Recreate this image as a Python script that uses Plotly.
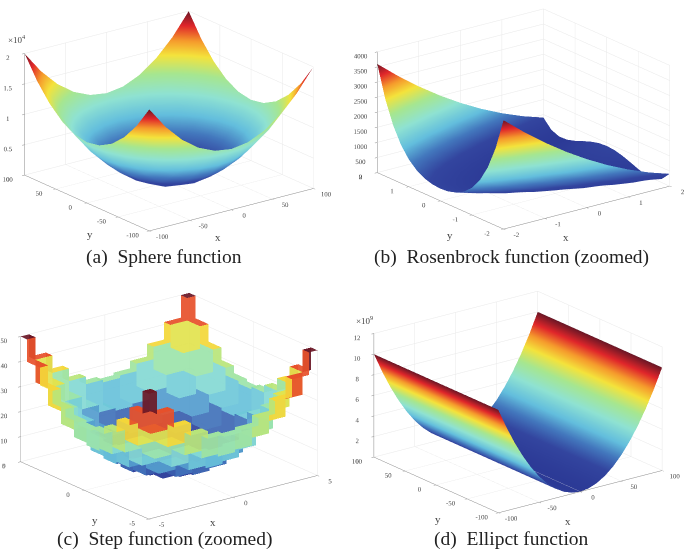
import numpy as np
import plotly.graph_objects as go

W, H = 685, 552
COLORS = [[0.0, "#2c3a96"], [0.12, "#33459f"], [0.22, "#4377bd"], [0.32, "#63bedd"],
          [0.45, "#8fe2d2"], [0.58, "#a6e690"], [0.70, "#f4e33c"], [0.80, "#f59a2c"],
          [0.90, "#e0262a"], [1.0, "#6b1726"]]

sphere_xy = [-100, -80, -60, -40, -20, 0, 20, 40, 60, 80, 100]
sphere_z = [
    [20000, 16400, 13600, 11600, 10400, 10000, 10400, 11600, 13600, 16400, 20000],
    [16400, 12800, 10000, 8000, 6800, 6400, 6800, 8000, 10000, 12800, 16400],
    [13600, 10000, 7200, 5200, 4000, 3600, 4000, 5200, 7200, 10000, 13600],
    [11600, 8000, 5200, 3200, 2000, 1600, 2000, 3200, 5200, 8000, 11600],
    [10400, 6800, 4000, 2000, 800, 400, 800, 2000, 4000, 6800, 10400],
    [10000, 6400, 3600, 1600, 400, 0, 400, 1600, 3600, 6400, 10000],
    [10400, 6800, 4000, 2000, 800, 400, 800, 2000, 4000, 6800, 10400],
    [11600, 8000, 5200, 3200, 2000, 1600, 2000, 3200, 5200, 8000, 11600],
    [13600, 10000, 7200, 5200, 4000, 3600, 4000, 5200, 7200, 10000, 13600],
    [16400, 12800, 10000, 8000, 6800, 6400, 6800, 8000, 10000, 12800, 16400],
    [20000, 16400, 13600, 11600, 10400, 10000, 10400, 11600, 13600, 16400, 20000],
]

rosen_x = [-2, -1.5, -1, -0.5, 0, 0.5, 1, 1.5, 2]
rosen_y = [-2, -1.75, -1.5, -1.25, -1, -0.75, -0.5, -0.25, 0, 0.25, 0.5, 0.75, 1, 1.25, 1.5, 1.75, 2]
rosen_z = [
    [3609, 3034, 2509, 2034, 1609, 1234, 909, 634, 409],
    [2571, 2090, 1658, 1277, 946, 665, 433, 252, 121],
    [1812, 1412, 1062, 762, 512, 312, 162, 62, 12],
    [1274, 943, 662, 430, 249, 118, 37, 5, 24],
    [904, 629, 404, 229, 104, 29, 4, 29, 104],
    [660, 428, 247, 116, 35, 3, 22, 91, 210],
    [508, 308, 158, 58, 8, 8, 58, 158, 308],
    [427, 246, 115, 34, 2, 21, 90, 209, 377],
    [401, 226, 101, 26, 1, 26, 101, 226, 401],
    [426, 245, 114, 33, 1, 20, 89, 208, 376],
    [506, 306, 156, 56, 6, 6, 56, 156, 306],
    [657, 425, 244, 113, 32, 0, 19, 88, 207],
    [900, 625, 400, 225, 100, 25, 0, 25, 100],
    [1269, 938, 657, 425, 244, 113, 32, 0, 19],
    [1806, 1406, 1056, 756, 506, 306, 156, 56, 6],
    [2564, 2083, 1651, 1270, 939, 658, 426, 245, 114],
    [3601, 3026, 2501, 2026, 1601, 1226, 901, 626, 401],
]

step_edges = [-5, -4.5, -3.5, -2.5, -1.5, -0.5, 0.5, 1.5, 2.5, 3.5, 4.5, 5]
step_cells = [
    [50, 41, 34, 29, 26, 25, 26, 29, 34, 41, 50],
    [41, 32, 25, 20, 17, 16, 17, 20, 25, 32, 41],
    [34, 25, 18, 13, 10, 9, 10, 13, 18, 25, 34],
    [29, 20, 13, 8, 5, 4, 5, 8, 13, 20, 29],
    [26, 17, 10, 5, 2, 1, 2, 5, 10, 17, 26],
    [25, 16, 9, 4, 1, 0, 1, 4, 9, 16, 25],
    [26, 17, 10, 5, 2, 1, 2, 5, 10, 17, 26],
    [29, 20, 13, 8, 5, 4, 5, 8, 13, 20, 29],
    [34, 25, 18, 13, 10, 9, 10, 13, 18, 25, 34],
    [41, 32, 25, 20, 17, 16, 17, 20, 25, 32, 41],
    [50, 41, 34, 29, 26, 25, 26, 29, 34, 41, 50],
]

ellip_x = [-100, -90, -80, -70, -60, -50, -40, -30, -20, -10, 0, 10, 20, 30, 40, 50, 60, 70, 80, 90, 100]
ellip_y = [-100, 0, 100]
ellip_z = [
    [10, 8.1, 6.4, 4.9, 3.6, 2.5, 1.6, 0.9, 0.4, 0.1, 0, 0.1, 0.4, 0.9, 1.6, 2.5, 3.6, 4.9, 6.4, 8.1, 10],
    [10, 8.1, 6.4, 4.9, 3.6, 2.5, 1.6, 0.9, 0.4, 0.1, 0, 0.1, 0.4, 0.9, 1.6, 2.5, 3.6, 4.9, 6.4, 8.1, 10],
    [10, 8.1, 6.4, 4.9, 3.6, 2.5, 1.6, 0.9, 0.4, 0.1, 0, 0.1, 0.4, 0.9, 1.6, 2.5, 3.6, 4.9, 6.4, 8.1, 10],
]

FLAT = dict(ambient=1, diffuse=0, specular=0, roughness=1, fresnel=0)
SERIF = "Liberation Serif"
VIEW = np.array([-0.569, -0.749, 0.34])


def cmap(t):
    stops = [c[0] for c in COLORS]
    rgb = np.array([[int(c[1][i:i + 2], 16) for i in (1, 3, 5)] for c in COLORS], float)
    return "rgb(%d,%d,%d)" % tuple(np.interp(t, stops, rgb[:, k]) for k in range(3))


def surf(x, y, z, scene, zmax):
    return go.Surface(x=x, y=y, z=z, scene=scene, colorscale=COLORS, cmin=0, cmax=zmax,
                      showscale=False, lighting=FLAT, hoverinfo="skip")


def axis(rng, vals, text=None):
    return dict(title=dict(text=""), range=rng, tickvals=vals, ticktext=text or [str(v) for v in vals],
                tickangle=0, tickfont=dict(family=SERIF, size=9, color="#444"), showbackground=False,
                showgrid=True, gridcolor="#e8e8e8", gridwidth=1, zeroline=False, showspikes=False,
                showline=True, linecolor="#888", linewidth=1, ticks="outside", ticklen=3,
                tickcolor="#888", autorange=False)


def scene(box, xa, ya, za, s, zs, dx=0, dy=0):
    l, t, rr, b = box
    ppu = (b - t) / 2
    c = np.array([-dx / ppu * 0.797, dx / ppu * 0.605, -dy / (ppu * 0.94)])
    e = VIEW * 1.5 + c
    return dict(domain=dict(x=[l / W, rr / W], y=[1 - b / H, 1 - t / H]),
                xaxis=xa, yaxis=ya, zaxis=za, aspectmode="manual",
                aspectratio=dict(x=s, y=s, z=zs),
                camera=dict(eye=dict(x=e[0], y=e[1], z=e[2]), center=dict(x=c[0], y=c[1], z=c[2]),
                            projection=dict(type="orthographic")),
                bgcolor="rgba(0,0,0,0)")


fig = go.Figure()
fig.add_trace(surf(sphere_xy, sphere_xy, sphere_z, "scene", 20000))
fig.add_trace(surf(rosen_x, rosen_y, rosen_z, "scene2", 3609))

# Step function: stepped grid, every quad flat-coloured by its lower-index corner,
# listed back to front so the translucent faces blend in viewing order.
gx = np.repeat(step_edges, 2)[1:-1]
gz = np.repeat(np.repeat(np.array(step_cells, float), 2, axis=0), 2, axis=1)
n = len(gx)
X, Y = np.meshgrid(gx, gx)
idx = np.arange(n * n).reshape(n, n)
quads = []
for a in range(n - 1):
    for b in range(n - 1):
        vs = [idx[a, b], idx[a, b + 1], idx[a + 1, b + 1], idx[a + 1, b]]
        cx, cy = X.ravel()[vs].mean() / 10, Y.ravel()[vs].mean() / 10
        cz = gz.ravel()[vs].mean() / 50 * 0.63
        quads.append((VIEW @ np.array([cx, cy, cz]), vs, cmap(min(gz[a, b] / 47.5, 1))))
quads.sort(key=lambda q: q[0])
ii, jj, kk, fc = [], [], [], []
for _, vs, col in quads:
    ii += [vs[0], vs[0]]; jj += [vs[1], vs[2]]; kk += [vs[2], vs[3]]; fc += [col, col]
fig.add_trace(go.Mesh3d(x=X.ravel(), y=Y.ravel(), z=gz.ravel(), i=ii, j=jj, k=kk, facecolor=fc,
                        opacity=0.92, flatshading=True, lighting=FLAT, scene="scene3", hoverinfo="skip"))
fig.add_trace(surf(ellip_x, ellip_y, ellip_z, "scene4", 10))

fig.update_layout(
    width=W, height=H, margin=dict(l=0, r=0, t=0, b=0), paper_bgcolor="white", showlegend=False,
    scene=scene((0, 0, 338, 244),
                axis([-100, 100], [-100, -50, 0, 50, 100]),
                axis([-100, 100], [-100, -50, 0, 50, 100]),
                axis([0, 20000], [0, 5000, 10000, 15000, 20000], ["0", "0.5", "1", "1.5", "2"]), 1.69, 1.06, 0, 1),
    scene2=scene((340, 0, 685, 240),
                 axis([-2, 2], [-2, -1, 0, 1, 2]),
                 axis([-2, 2], [-2, -1, 0, 1, 2]),
                 axis([0, 4000], [0, 500, 1000, 1500, 2000, 2500, 3000, 3500, 4000]), 1.74, 1.07, 11, 1),
    scene3=scene((0, 276, 338, 532),
                 axis([-5, 5], [-5, 0, 5]),
                 axis([-5, 5], [-5, 0, 5]),
                 axis([0, 50], [0, 10, 20, 30, 40, 50]), 1.655, 1.04, 0, -2),
    scene4=scene((340, 276, 685, 530),
                 axis([-100, 100], [-100, -50, 0, 50, 100]),
                 axis([-100, 100], [-100, -50, 0, 50, 100]),
                 axis([0, 12], [0, 2, 4, 6, 8, 10, 12]), 1.62, 1.035, 5.5, 1),
)

labels = [("(a)", "Sphere function", 84, 257), ("(b)", "Rosenbrock function (zoomed)", 372, 257),
          ("(c)", "Step function (zoomed)", 55, 539), ("(d)", "Ellipct function", 432, 539)]
anns = []
for tag, name, x, y in labels:
    anns.append(dict(text=f"{tag}  {name}", x=x / W, y=1 - y / H, xref="paper", yref="paper", xanchor="left",
                     yanchor="middle", showarrow=False, font=dict(family=SERIF, size=19.5, color="#222")))
axis_labels = [("x", 218, 237), ("y", 90, 234), ("x", 566, 237), ("y", 450, 235),
               ("x", 213, 522), ("y", 95, 520), ("x", 568, 521), ("y", 438, 519)]
for txt, x, y in axis_labels:
    anns.append(dict(text=txt, x=x / W, y=1 - y / H, xref="paper", yref="paper", xanchor="center", yanchor="middle",
                     showarrow=False, font=dict(family=SERIF, size=11, color="#444")))
for txt, x, y in [("×10<sup>4</sup>", 6, 39), ("×10<sup>9</sup>", 354, 320)]:
    anns.append(dict(text=txt, x=x / W, y=1 - y / H, xref="paper", yref="paper", xanchor="left", yanchor="middle",
                     showarrow=False, font=dict(family=SERIF, size=9, color="#444")))
fig.update_layout(annotations=anns)
fig.write_html("out.html", config=dict(displayModeBar=False), post_script="document.body.style.margin='0';")
